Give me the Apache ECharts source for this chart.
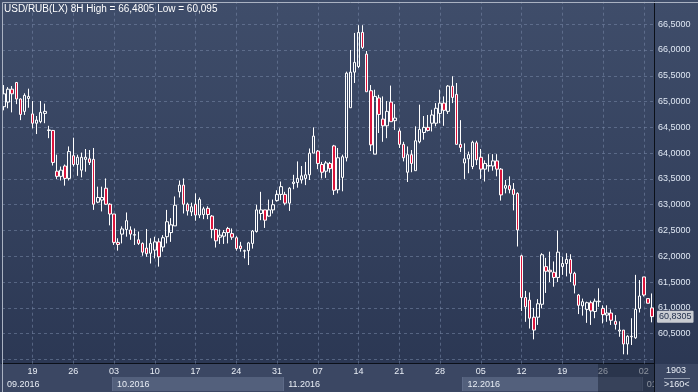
<!DOCTYPE html>
<html><head><meta charset="utf-8">
<script src="https://cdn.jsdelivr.net/npm/echarts@6/dist/echarts.min.js"></script>
<style>html,body{margin:0;padding:0;background:#2f3b57;}#c{width:698px;height:392px;}</style>
</head><body><div id="c"></div>
<script>
// ---- data (8H bars, USD/RUB) ----
const opens = [64.90,64.99,65.24,65.37,65.05,64.81,65.06,64.76,64.58,64.61,64.77,64.44,64.44,63.65,63.55,63.75,63.51,63.95,63.78,63.67,
63.88,63.89,63.88,63.05,63.09,63.32,63.01,62.82,62.27,62.43,62.52,62.51,62.41,62.32,62.25,62.16,62.06,62.12,62.28,62.18,
62.38,62.46,62.59,63.25,63.38,63.01,62.86,63.01,62.80,62.81,62.93,62.78,62.52,62.37,62.39,62.54,62.44,62.36,62.20,62.10,
62.11,62.25,62.48,62.83,62.90,62.78,62.90,63.08,63.20,63.20,63.03,63.41,63.43,63.48,63.51,63.58,64.00,64.04,63.78,63.65,
63.80,64.14,63.29,63.53,63.91,64.88,65.57,65.68,66.34,65.92,65.21,63.98,65.07,64.66,64.53,64.99,64.63,64.43,64.17,63.63,
63.97,63.66,64.22,64.40,64.50,64.58,64.58,64.77,64.97,64.81,65.30,65.14,64.17,63.81,63.89,63.74,64.20,63.92,63.69,63.75,
63.75,63.85,63.69,63.32,63.37,63.30,63.22,62.01,61.20,61.15,60.82,60.82,61.07,61.80,61.73,61.69,61.59,61.80,61.86,61.94,
61.67,61.25,61.04,60.97,61.10,60.93,61.12,60.99,60.86,60.90,60.74,60.55,60.57,60.30,60.44,60.42,60.99,61.60,61.18,61.00];
const highs = [65.32,65.28,65.30,65.38,65.06,65.16,65.25,65.01,64.72,65.01,64.96,64.53,64.45,63.97,63.74,63.78,64.13,64.30,63.97,64.01,
64.08,64.06,64.10,63.35,63.35,63.51,63.03,62.82,62.35,62.58,62.85,62.58,62.54,62.48,62.27,62.53,62.35,62.38,62.35,62.41,
62.90,62.74,63.16,63.47,63.51,63.04,63.04,63.22,63.14,62.96,62.97,62.80,62.54,62.52,62.51,62.57,62.54,62.39,62.28,62.13,
62.28,62.51,63.00,63.25,62.90,63.10,63.10,63.28,63.45,63.25,63.34,63.58,63.84,63.75,63.83,64.09,64.50,64.06,63.83,63.85,
63.83,64.16,64.10,63.97,65.58,66.00,66.33,66.4805,66.48,65.98,65.32,65.23,65.13,65.10,65.01,65.31,64.95,64.48,64.22,64.13,
64.06,64.52,64.94,64.72,64.74,64.84,64.97,65.23,65.10,65.32,65.49,65.36,64.64,64.19,64.03,64.24,64.24,64.08,63.86,63.98,
63.98,63.98,63.71,63.48,63.55,63.42,63.24,62.03,61.33,61.30,61.00,61.17,62.06,61.97,62.09,61.90,62.50,61.99,62.06,62.04,
61.70,61.27,61.18,61.12,61.14,61.18,61.38,61.05,61.05,60.97,60.86,60.74,60.57,60.47,60.80,61.64,61.54,61.60,61.18,61.28];
const lows = [64.83,64.87,64.79,64.95,64.64,64.74,64.88,64.48,64.37,64.58,64.58,64.29,63.76,63.50,63.47,63.37,63.47,63.74,63.56,63.53,
63.64,63.77,62.90,63.03,62.87,63.00,62.60,62.22,62.11,62.25,62.38,62.32,62.22,62.22,62.01,61.99,61.86,61.96,61.80,62.09,
62.25,62.28,62.59,63.14,62.83,62.79,62.78,62.69,62.74,62.72,62.72,62.35,62.17,62.24,62.24,62.25,62.32,62.11,62.09,61.96,
61.83,62.15,62.46,62.70,62.55,62.77,62.83,63.06,63.09,62.99,62.88,63.30,63.33,63.41,63.38,63.48,64.00,63.69,63.51,63.52,
63.62,63.19,63.22,63.26,63.84,64.88,65.36,65.65,66.02,65.19,64.04,63.98,64.39,64.22,64.29,64.61,64.45,64.10,63.84,63.44,
63.63,63.66,64.19,64.26,64.42,64.42,64.52,64.58,64.53,64.76,64.97,64.17,64.02,63.50,63.61,63.69,63.77,63.50,63.45,63.64,
63.66,63.55,63.08,63.22,63.22,62.89,62.19,60.94,60.73,60.60,60.39,60.67,60.99,61.29,61.50,61.41,61.50,61.64,61.61,61.50,
61.28,60.88,60.85,60.71,60.67,60.80,61.02,60.70,60.73,60.67,60.58,60.44,60.10,60.095,60.28,60.40,60.91,61.22,61.09,60.72];
const closes = [65.15,65.24,65.15,65.05,64.75,65.12,65.10,64.58,64.64,64.79,64.81,64.45,63.82,63.55,63.67,63.51,64.03,63.78,63.92,63.92,
63.92,63.82,63.01,63.14,63.14,63.01,62.82,62.27,62.23,62.53,62.69,62.43,62.42,62.25,62.08,62.05,62.25,62.28,61.99,62.36,
62.67,62.61,62.99,63.38,63.01,62.88,62.96,62.80,63.10,62.92,62.81,62.52,62.30,62.41,62.46,62.46,62.37,62.15,62.15,62.11,
62.26,62.49,62.90,62.90,62.70,62.90,63.00,63.20,63.35,63.03,63.32,63.44,63.51,63.56,63.58,64.00,64.33,63.80,63.63,63.81,
63.70,63.28,63.91,63.93,65.55,65.57,65.76,66.34,66.05,65.19,64.16,65.10,64.75,64.53,64.81,64.61,64.68,64.17,63.91,63.97,
63.80,64.24,64.46,64.50,64.44,64.74,64.87,64.97,64.83,65.30,65.08,64.17,64.11,63.89,63.97,64.21,63.87,63.69,63.80,63.76,
63.85,63.69,63.19,63.37,63.29,63.20,62.51,61.20,61.02,60.80,60.57,61.08,62.03,61.71,61.70,61.59,62.08,61.86,61.94,61.67,
61.44,61.05,61.12,61.10,60.94,61.13,61.13,60.87,60.90,60.76,60.68,60.57,60.30,60.45,60.45,60.97,61.23,61.25,61.09,60.8305];

// categories: two 8H bars per trading day starting with the 2nd bar of 13 Sep 2016
function buildCategories(n) {
  const out = [];
  const d = new Date(Date.UTC(2016, 8, 13));
  let startHalf = 1;
  while (out.length < n) {
    const wd = d.getUTCDay();
    if (wd >= 1 && wd <= 5) {
      for (let h = startHalf; h < 2 && out.length < n; h++) {
        out.push(d.toISOString().slice(0, 10) + (h === 0 ? ' 10:00' : ' 18:00'));
      }
      startHalf = 0;
    }
    d.setUTCDate(d.getUTCDate() + 1);
  }
  return out;
}
const categories = buildCategories(opens.length);
const symbolName = 'USD/RUB(LX) 8H';
const lastInfo = '1903';
const barsInfo = '>160<';

// ---- helpers ----
const comma = v => String(v).replace('.', ',');
const fmt4 = v => Number(v).toFixed(4).replace('.', ',');
const isWeekStart = (i, v) => {
  const d = new Date(v.slice(0, 10) + 'T00:00:00Z');
  return d.getUTCDay() === 1 && v.endsWith('10:00');
};
const isMonthStart = (i, v) => i === 0 || categories[i].slice(5, 7) !== categories[i - 1].slice(5, 7);

const candleData = opens.map((o, i) => [o, closes[i], lows[i], highs[i]]);
const maxHigh = Math.max(...highs);
const minLow = Math.min(...lows);
const lastClose = closes[closes.length - 1];

const FONT = "'Liberation Sans', Arial, sans-serif";
const gridLine = { color: 'rgba(120,136,168,0.55)', type: [3, 3], width: 1 };

const chart = echarts.init(document.getElementById('c'), null, { renderer: 'canvas' });
const option = {
  animation: false,
  backgroundColor: {
    type: 'linear', x: 0, y: 0, x2: 0, y2: 1,
    colorStops: [{ offset: 0, color: '#3f4d6a' }, { offset: 1, color: '#2a3652' }]
  },
  title: {
    text: symbolName + ' High = ' + comma(maxHigh) + ' Low = ' + comma(minLow),
    left: 4, top: 4, padding: 0,
    textStyle: { color: '#ffffff', fontSize: 10, fontWeight: 'normal', fontFamily: FONT }
  },
  grid: [
    { left: 2, right: 44, top: 2, bottom: 28.3 },
    { left: 0, right: 0, top: 364, bottom: 0, show: true, backgroundColor: '#3b4763', borderWidth: 0 },
    { left: 2, right: 44, top: 377, height: 14 }
  ],
  xAxis: [
    {
      type: 'category', data: categories, gridIndex: 0, boundaryGap: true,
      axisLine: { show: true, lineStyle: { color: '#0b1019', width: 1 } },
      axisTick: { show: true, alignWithLabel: true, inside: true, interval: isWeekStart, length: 362, lineStyle: gridLine },
      axisLabel: { interval: isWeekStart, formatter: v => v.slice(8, 10), color: '#e8edf5', fontSize: 9, fontFamily: FONT, margin: 3 },
      splitLine: { show: false }
    },
    {
      type: 'category', data: categories, gridIndex: 2, boundaryGap: true, position: 'bottom',
      axisLine: { show: false }, axisTick: { show: false },
      axisLabel: { inside: true, interval: isMonthStart, formatter: v => v.slice(5, 7) + '.' + v.slice(0, 4),
        align: 'left', padding: [0, 0, 0, 3], color: '#e8edf5', fontSize: 9, fontFamily: FONT, margin: 2 },
      splitLine: { show: true, interval: isMonthStart, lineStyle: { color: '#5d6a87', width: 1 } },
      splitArea: { show: true, interval: isMonthStart, areaStyle: { color: ['rgba(0,0,0,0)', 'rgba(112,126,156,0.45)'] } }
    }
  ],
  yAxis: [
    {
      type: 'value', gridIndex: 0, position: 'right', min: 59.918, max: 66.93,
      splitNumber: 12, minInterval: 0.5, maxInterval: 0.5,
      axisLine: { show: true, lineStyle: { color: '#0b1019', width: 1 } },
      axisTick: { show: false },
      axisLabel: {
        formatter: v => (v > 60.25 && v < 66.75) ? fmt4(v) : '',
        color: '#dfe7f3', fontSize: 9, fontFamily: FONT, margin: 4,
        showMinLabel: false, showMaxLabel: false
      },
      splitLine: { show: true, lineStyle: gridLine, showMinLine: false, showMaxLine: false }
    },
    { type: 'value', gridIndex: 2, show: false }
  ],
  series: [{
    type: 'candlestick', xAxisIndex: 0, yAxisIndex: 0, data: candleData,
    barWidth: 3,
    itemStyle: { color: 'rgba(0,0,0,0)', color0: '#dc143c', borderColor: '#ffffff', borderColor0: '#ffffff', borderColorDoji: '#ffffff', borderWidth: 1 },
    markLine: {
      silent: true, symbol: ['none', 'none'], precision: 4,
      lineStyle: { color: 'rgba(0,0,0,0)', width: 0 },
      label: { show: true, position: 'end', distance: 3, formatter: () => fmt4(lastClose),
        backgroundColor: '#c9ccd2', color: '#22304d', fontSize: 9, fontFamily: FONT, padding: [2, 2, 1, 2], borderRadius: 1 },
      emphasis: { disabled: true },
      data: [{ yAxis: lastClose }]
    }
  }],
  graphic: [
    { type: 'rect', left: 598, top: 364, shape: { width: 56, height: 28 }, style: { fill: 'rgba(22,30,48,0.45)' }, z: 100, silent: true },
    { type: 'rect', left: 655, top: 364, shape: { width: 43, height: 28 }, style: { fill: '#3b4763' }, z: 99, silent: true },
    { type: 'line', shape: { x1: 654.5, y1: 364, x2: 654.5, y2: 392 }, style: { stroke: '#0b1019', lineWidth: 1 }, z: 100 },
    { type: 'text', left: 666, top: 366, style: { text: lastInfo, fill: '#e8edf5', font: '9px ' + FONT }, z: 100 },
    { type: 'line', shape: { x1: 664, y1: 378.5, x2: 690, y2: 378.5 }, style: { stroke: '#8d97ab', lineWidth: 1 }, z: 100 },
    { type: 'text', left: 664, top: 380, style: { text: barsInfo, fill: '#e8edf5', font: '9px ' + FONT }, z: 100 },
    { type: 'rect', left: 0, top: 0, shape: { width: 697, height: 391 }, style: { fill: null, stroke: '#aab2c2', lineWidth: 1 }, z: 100, silent: true }
  ]
};
chart.setOption(option);
</script>
</body></html>
